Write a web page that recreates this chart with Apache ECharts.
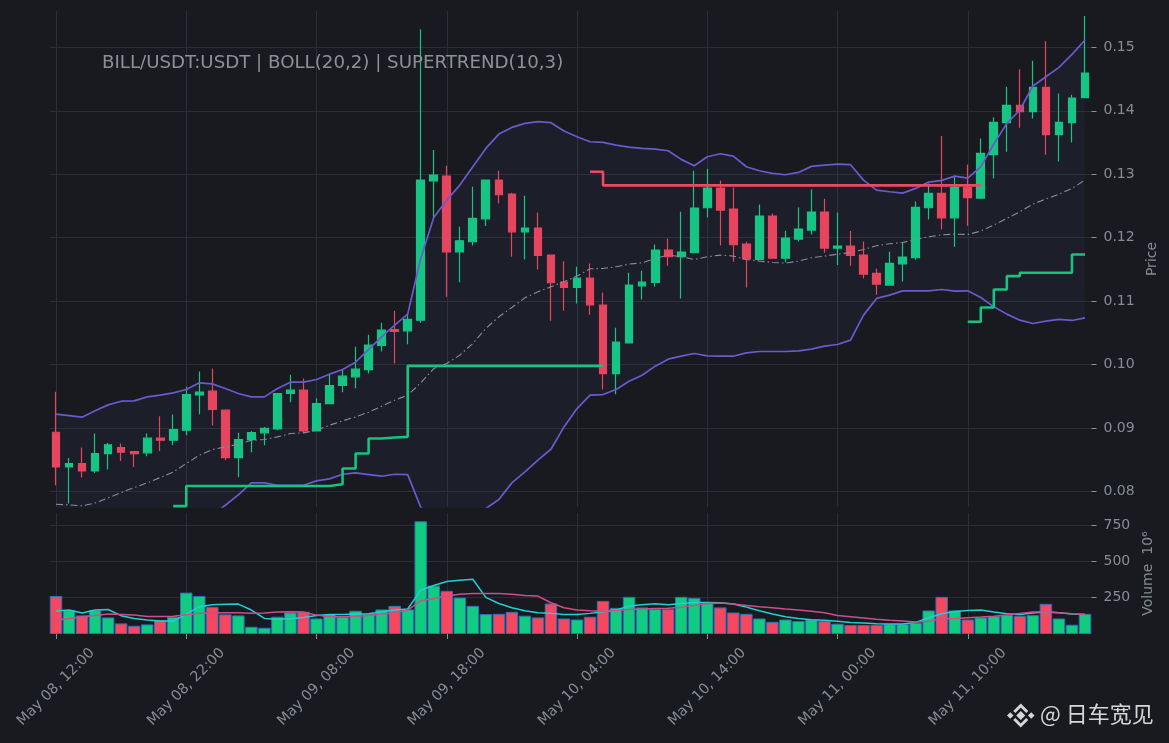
<!DOCTYPE html>
<html>
<head>
<meta charset="utf-8">
<script src="https://cdn.jsdelivr.net/npm/echarts@6/dist/echarts.min.js"></script>
<style>
html,body{margin:0;padding:0;background:#181a1f;}
#chart{width:1169px;height:743px;}
</style>
</head>
<body>
<div id="chart"></div>
<script>
// ---------- DATA ----------
const startDay = 8, startHour = 12, candleCount = 80;
const opens  = [0.08935,0.08389,0.08441,0.08326,0.08599,0.08694,0.08631,0.0861,0.08841,0.08809,
  0.08967,0.09524,0.09582,0.09282,0.08536,0.0882,0.08925,0.08988,0.09545,0.09597,
  0.08956,0.09387,0.09671,0.09808,0.09923,0.10302,0.10554,0.10533,0.10701,0.12897,
  0.12971,0.11778,0.11936,0.12298,0.12908,0.12687,0.12093,0.12151,0.11726,0.1130,
  0.11216,0.11363,0.10937,0.0986,0.10344,0.11242,0.11295,0.11805,0.117,0.11763,
  0.12472,0.12782,0.12451,0.11899,0.11657,0.12341,0.11678,0.11978,0.1212,0.12404,
  0.11836,0.11868,0.11726,0.11437,0.11253,0.11589,0.11684,0.12472,0.12698,0.12314,
  0.12792,0.12625,0.13308,0.13812,0.14085,0.13985,0.14369,0.13623,0.13812,0.14206];
const closes = [0.08389,0.08441,0.08326,0.08599,0.08736,0.0862,0.08599,0.08841,0.08809,0.08977,
  0.09529,0.09566,0.09293,0.08536,0.0882,0.0893,0.08998,0.09545,0.09597,0.08956,
  0.09387,0.09671,0.09818,0.09929,0.10307,0.10543,0.10522,0.10712,0.12908,0.12987,
  0.11778,0.11952,0.12304,0.12908,0.12677,0.12093,0.12151,0.1172,0.1129,0.11216,
  0.11363,0.10943,0.0986,0.10354,0.11253,0.1130,0.11805,0.117,0.11773,0.12467,
  0.12782,0.12435,0.11889,0.11668,0.12341,0.11678,0.11994,0.12136,0.12404,0.11836,
  0.11868,0.1172,0.11425,0.11269,0.11594,0.11694,0.12477,0.12698,0.12314,0.12792,
  0.1263,0.13329,0.13817,0.14085,0.13985,0.14369,0.13623,0.13817,0.142,0.14595];
const lows   = [0.0810,0.07811,0.08221,0.08294,0.08347,0.08483,0.08389,0.08557,0.08641,0.0873,
  0.08888,0.09219,0.0904,0.08494,0.08231,0.0862,0.0873,0.08967,0.09408,0.08925,
  0.08946,0.09377,0.09566,0.09629,0.0986,0.10207,0.10018,0.10323,0.10659,0.12304,
  0.11069,0.1130,0.11878,0.12183,0.1254,0.11699,0.11657,0.1150,0.1069,0.10848,
  0.10964,0.10785,0.09608,0.09534,0.10333,0.11027,0.11226,0.11558,0.11043,0.11752,
  0.1232,0.11878,0.1162,0.11216,0.11647,0.11668,0.11615,0.11941,0.12051,0.11763,
  0.11568,0.11558,0.11358,0.1110,0.11242,0.1131,0.11657,0.12288,0.1213,0.11857,
  0.12188,0.1261,0.12934,0.13355,0.13733,0.1388,0.13308,0.13202,0.135,0.14206];
const highs  = [0.09571,0.08531,0.08694,0.08914,0.08767,0.08757,0.08631,0.08914,0.09188,0.09214,
  0.0965,0.09892,0.09939,0.09293,0.08925,0.08956,0.09019,0.09555,0.09839,0.09781,
  0.09471,0.09839,0.09923,0.10281,0.1047,0.10659,0.10848,0.10806,0.15283,0.13381,
  0.13134,0.12172,0.12803,0.12918,0.13055,0.12708,0.12661,0.12398,0.11736,0.11631,
  0.11542,0.11594,0.11137,0.1058,0.11447,0.11479,0.11894,0.11988,0.12409,0.13055,
  0.13087,0.12903,0.12792,0.11936,0.12524,0.12383,0.12109,0.12477,0.12761,0.12614,
  0.12398,0.12104,0.1194,0.11515,0.11778,0.1193,0.12572,0.12856,0.13602,0.12961,
  0.13155,0.13565,0.13896,0.14379,0.14653,0.14789,0.15094,0.14274,0.14253,0.15493];
const bollUpper = [0.09219,0.09198,0.09172,0.09272,0.09366,0.09424,0.09429,0.09492,0.09519,0.09555,
  0.09608,0.09713,0.09697,0.09624,0.09545,0.09492,0.09492,0.09624,0.09724,0.09724,
  0.09766,0.0985,0.09923,0.10039,0.10239,0.10438,0.10622,0.10796,0.11673,0.1232,
  0.12593,0.12829,0.13118,0.13407,0.13633,0.13738,0.13801,0.13828,0.13812,0.1368,
  0.13591,0.13512,0.13502,0.1346,0.13428,0.13407,0.13397,0.1337,0.13234,0.13134,
  0.13276,0.13323,0.13286,0.13118,0.13055,0.13013,0.12992,0.13029,0.13124,0.13145,
  0.1316,0.1315,0.12908,0.1275,0.12724,0.12703,0.12777,0.12877,0.12903,0.12971,
  0.1294,0.13118,0.13476,0.13801,0.14012,0.1439,0.14537,0.14684,0.14889,0.15115];
const bollMid = [0.0780,0.0779,0.07774,0.07821,0.079,0.07984,0.08063,0.08137,0.08221,0.0831,
  0.08441,0.08573,0.08662,0.08704,0.08746,0.08809,0.0882,0.08862,0.08914,0.08925,
  0.08967,0.09046,0.09114,0.09177,0.09251,0.09345,0.0944,0.09519,0.09713,0.09939,
  0.10018,0.10149,0.10333,0.1057,0.10754,0.10901,0.11053,0.11148,0.11227,0.11305,
  0.11395,0.1151,0.11516,0.11542,0.11584,0.11605,0.11673,0.11726,0.117,0.11657,
  0.117,0.11726,0.1171,0.11657,0.11631,0.1161,0.116,0.11631,0.11684,0.1171,
  0.11741,0.11768,0.11815,0.11873,0.11904,0.11925,0.11973,0.12015,0.12046,0.12057,
  0.12051,0.12104,0.12199,0.12304,0.12409,0.1253,0.12609,0.12687,0.12777,0.12908];
const bollLower = [0.06381,0.06382,0.06376,0.0637,0.06434,0.06544,0.06697,0.06782,0.06923,0.07065,
  0.07274,0.07433,0.07627,0.07784,0.07947,0.08137,0.08137,0.0810,0.0810,0.0810,
  0.08168,0.082,0.08273,0.08294,0.08268,0.08242,0.08273,0.08268,0.07753,0.07558,
  0.07443,0.07469,0.07548,0.07733,0.07875,0.08137,0.0831,0.08494,0.08667,0.09019,
  0.09308,0.09519,0.09529,0.09608,0.09739,0.09834,0.09976,0.10086,0.10133,0.10176,
  0.10139,0.10133,0.10133,0.10186,0.10207,0.10207,0.10207,0.10218,0.10244,0.10291,
  0.10317,0.10386,0.1078,0.11043,0.11095,0.11163,0.11163,0.11163,0.11184,0.11158,
  0.11163,0.11058,0.10911,0.10796,0.10701,0.10648,0.10685,0.10712,0.10696,0.10738];
const n = null;
const superUp = [n,n,n,n,n,n,n,n,n,0.0777,
  0.08089,0.08089,0.08089,0.08089,0.08089,0.08089,0.08089,0.08089,0.08089,0.08089,
  0.08089,0.08116,0.08363,0.08599,0.08836,0.08851,0.08862,0.09981,0.09981,0.09981,
  0.09981,0.09981,0.09981,0.09981,0.09981,0.09981,0.09981,0.09981,0.09981,0.09981,
  0.09981,0.09981,n,n,n,n,n,n,n,n,
  n,n,n,n,n,n,n,n,n,n,
  n,n,n,n,n,n,n,n,n,n,
  0.10675,0.109,0.11184,0.11395,0.11447,0.11447,0.11447,0.11447,0.11736,0.11736];
const superDown = [n,n,n,n,n,n,n,n,n,n,
  n,n,n,n,n,n,n,n,n,n,
  n,n,n,n,n,n,n,n,n,n,
  n,n,n,n,n,n,n,n,n,n,
  n,0.13039,0.12824,0.12824,0.12824,0.12824,0.12824,0.12824,0.12824,0.12824,
  0.12824,0.12824,0.12824,0.12824,0.12824,0.12824,0.12824,0.12824,0.12824,0.12824,
  0.12824,0.12824,0.12824,0.12824,0.12824,0.12824,0.12824,0.12824,0.12824,0.12824,
  0.12824,n,n,n,n,n,n,n,n,n];
const volumes = [262,164,128,164,114,73,57,66,96,119,
  285,262,187,135,128,50,43,119,148,153,
  107,137,119,160,139,169,194,169,776,333,
  297,251,194,137,139,153,126,114,210,107,
  100,119,228,180,256,183,171,171,256,249,
  212,183,148,139,107,84,100,89,100,89,
  71,62,62,62,68,68,78,162,256,162,
  100,114,123,132,126,130,208,107,64,139];
const volMaFast = [158,165,144,165,169,126,107,96,89,89,
  137,188,201,204,206,165,107,101,105,114,
  128,135,135,137,139,153,165,172,302,334,
  361,370,377,252,210,181,160,146,142,135,
  135,142,153,165,192,201,208,201,210,217,
  217,215,206,185,160,137,119,107,98,94,
  87,80,76,71,69,69,80,112,140,155,
  162,165,152,140,135,145,152,147,137,135];
const volMaSlow = [96,107,119,128,137,135,130,121,121,123,
  133,142,144,146,146,142,144,151,153,151,
  130,119,119,123,128,137,146,165,229,245,
  261,274,279,279,279,274,265,261,215,181,
  165,160,156,162,169,172,176,178,185,197,
  210,213,206,197,188,181,172,165,156,146,
  128,119,110,101,94,89,82,87,105,107,
  112,117,123,130,142,151,153,146,140,135];
const priceTicks = [0.08,0.09,0.10,0.11,0.12,0.13,0.14,0.15];
const volumeTicks = [250,500,750];
const titleText = 'BILL/USDT:USDT | BOLL(20,2) | SUPERTREND(10,3)';

// ---------- BUILD ----------
const pad = v => (v < 10 ? '0' : '') + v;
const categories = [];
{
  let d = startDay, h = startHour;
  for (let i = 0; i < candleCount; i++) {
    categories.push('May ' + pad(d) + ', ' + pad(h) + ':00');
    h++; if (h === 24) { h = 0; d++; }
  }
}
const ohlc = opens.map((o, i) => [o, closes[i], lows[i], highs[i]]);
const bandWidth = bollUpper.map((u, i) => u - bollLower[i]);
const UP = '#16c584', DOWN = '#e6455f';
const volData = volumes.map((v, i) => ({
  value: v,
  itemStyle: { color: closes[i] >= opens[i] ? '#10cb80' : '#f5475f' }
}));

const FONT = 'DejaVu Sans';
const GRID = '#2b2e35';
const TXT = '#868c96';
const L = 49.5, R = 77.5;

const chart = echarts.init(document.getElementById('chart'), null, { renderer: 'canvas' });
chart.setOption({
  animation: false,
  backgroundColor: '#181a1f',
  textStyle: { fontFamily: FONT },
  title: {
    text: titleText, left: 97, top: 49,
    textStyle: { color: '#8b919a', fontSize: 18.2, fontWeight: 'normal', fontFamily: FONT }
  },
  grid: [
    { left: L, right: R, top: 11, bottom: 236 },
    { left: L, right: R, top: 513, bottom: 109 }
  ],
  xAxis: [
    { type: 'category', gridIndex: 0, data: categories, boundaryGap: true,
      axisLine: { show: false }, axisTick: { show: false }, axisLabel: { show: false },
      splitLine: { show: true, interval: 9, alignWithLabel: true, lineStyle: { color: GRID, width: 1 } } },
    { type: 'category', gridIndex: 1, data: categories, boundaryGap: true,
      axisLine: { show: false },
      axisTick: { show: true, interval: 9, alignWithLabel: true, length: 5, lineStyle: { color: '#8a9099' } },
      axisLabel: { interval: 9, rotate: 45, align: 'center', verticalAlign: 'middle', margin: 53,
        color: TXT, fontSize: 14.3, fontFamily: FONT },
      splitLine: { show: true, interval: 9, alignWithLabel: true, lineStyle: { color: GRID, width: 1 } } }
  ],
  yAxis: [
    { type: 'value', gridIndex: 0, position: 'right', min: 0.07757, max: 0.15572, splitNumber: 8, scale: true,
      name: 'Price', nameLocation: 'middle', nameRotate: 90, nameGap: 53,
      nameTextStyle: { color: TXT, fontSize: 14, fontFamily: FONT },
      axisLine: { show: false },
      axisTick: { show: true, length: 5, lineStyle: { color: '#8a9099' } },
      axisLabel: { color: TXT, fontSize: 14, margin: 12, showMinLabel: false, showMaxLabel: false,
        formatter: v => priceTicks.some(t => Math.abs(t - v) < 1e-9) ? v.toFixed(2) : '' },
      splitLine: { show: true, showMinLine: false, showMaxLine: false, lineStyle: { color: GRID, width: 1 } } },
    { type: 'value', gridIndex: 1, position: 'right', min: 0, max: 833, interval: 250,
      name: 'Volume  10⁶', nameLocation: 'middle', nameRotate: 90, nameGap: 49,
      nameTextStyle: { color: TXT, fontSize: 14, fontFamily: FONT },
      axisLine: { show: false },
      axisTick: { show: true, length: 5, lineStyle: { color: '#8a9099' } },
      axisLabel: { color: TXT, fontSize: 14, margin: 12, showMinLabel: false, showMaxLabel: false,
        formatter: v => volumeTicks.indexOf(v) >= 0 ? String(v) : '' },
      splitLine: { show: true, showMinLine: false, showMaxLine: false, lineStyle: { color: GRID, width: 1 } } }
  ],
  series: [
    { name: 'bandBase', type: 'line', xAxisIndex: 0, yAxisIndex: 0, data: bollLower, stack: 'band',
      symbol: 'none', silent: true, lineStyle: { opacity: 0 }, z: 1 },
    { name: 'bandFill', type: 'line', xAxisIndex: 0, yAxisIndex: 0, data: bandWidth, stack: 'band',
      symbol: 'none', silent: true, lineStyle: { opacity: 0 },
      areaStyle: { color: 'rgba(110,95,210,0.085)' }, z: 1 },
    { name: 'candles', type: 'candlestick', xAxisIndex: 0, yAxisIndex: 0, data: ohlc, barWidth: 8.2,
      itemStyle: { color: UP, color0: DOWN, borderColor: UP, borderColor0: DOWN, borderWidth: 1.2 }, z: 2 },
    { name: 'mid', type: 'line', xAxisIndex: 0, yAxisIndex: 0, data: bollMid, symbol: 'none',
      lineStyle: { color: '#8c8b9c', width: 1.1, type: [7, 3, 1.5, 3] }, z: 3 },
    { name: 'upper', type: 'line', xAxisIndex: 0, yAxisIndex: 0, data: bollUpper, symbol: 'none',
      lineStyle: { color: '#6a5acd', width: 1.7 }, z: 3 },
    { name: 'lower', type: 'line', xAxisIndex: 0, yAxisIndex: 0, data: bollLower, symbol: 'none',
      lineStyle: { color: '#6a5acd', width: 1.7 }, z: 3 },
    { name: 'stUp', type: 'line', xAxisIndex: 0, yAxisIndex: 0, data: superUp, step: 'end', symbol: 'none',
      connectNulls: false, lineStyle: { color: '#14c47f', width: 2.6 }, z: 4 },
    { name: 'stDown', type: 'line', xAxisIndex: 0, yAxisIndex: 0, data: superDown, step: 'end', symbol: 'none',
      connectNulls: false, lineStyle: { color: '#ee4a5f', width: 2.6 }, z: 4 },
    { name: 'volume', type: 'bar', xAxisIndex: 1, yAxisIndex: 1, data: volData, barWidth: '96%',
      itemStyle: { borderColor: '#2a72b6', borderWidth: 1 }, z: 2 },
    { name: 'volFast', type: 'line', xAxisIndex: 1, yAxisIndex: 1, data: volMaFast, symbol: 'none', smooth: false,
      lineStyle: { color: '#22cfd6', width: 1.5 }, z: 3 },
    { name: 'volSlow', type: 'line', xAxisIndex: 1, yAxisIndex: 1, data: volMaSlow, symbol: 'none', smooth: false,
      lineStyle: { color: '#cc4f8a', width: 1.5 }, z: 3 }
  ],
  graphic: [
    { type: 'group', left: 1007, top: 703, children: [
      { type: 'rect', shape: { x: -3.2, y: -3.2, width: 6.4, height: 6.4 }, rotation: Math.PI / 4, x: 13.5, y: 13,
        style: { fill: '#d6d6d6' } },
      { type: 'rect', shape: { x: -2.3, y: -2.3, width: 4.6, height: 4.6 }, rotation: Math.PI / 4, x: 3, y: 13,
        style: { fill: '#d6d6d6' } },
      { type: 'rect', shape: { x: -2.3, y: -2.3, width: 4.6, height: 4.6 }, rotation: Math.PI / 4, x: 24, y: 13,
        style: { fill: '#d6d6d6' } },
      { type: 'polyline', shape: { points: [[7, 9.5], [13.5, 3], [20, 9.5]] },
        style: { stroke: '#d6d6d6', lineWidth: 3, fill: null } },
      { type: 'polyline', shape: { points: [[7, 16.5], [13.5, 23], [20, 16.5]] },
        style: { stroke: '#d6d6d6', lineWidth: 3, fill: null } }
    ] },
    { type: 'text', left: 1040, top: 703,
      style: { text: '@ 日车宽见', fill: '#d6d6d6', fontSize: 22, fontFamily: 'Noto Sans CJK SC' } }
  ]
});
</script>
</body>
</html>
